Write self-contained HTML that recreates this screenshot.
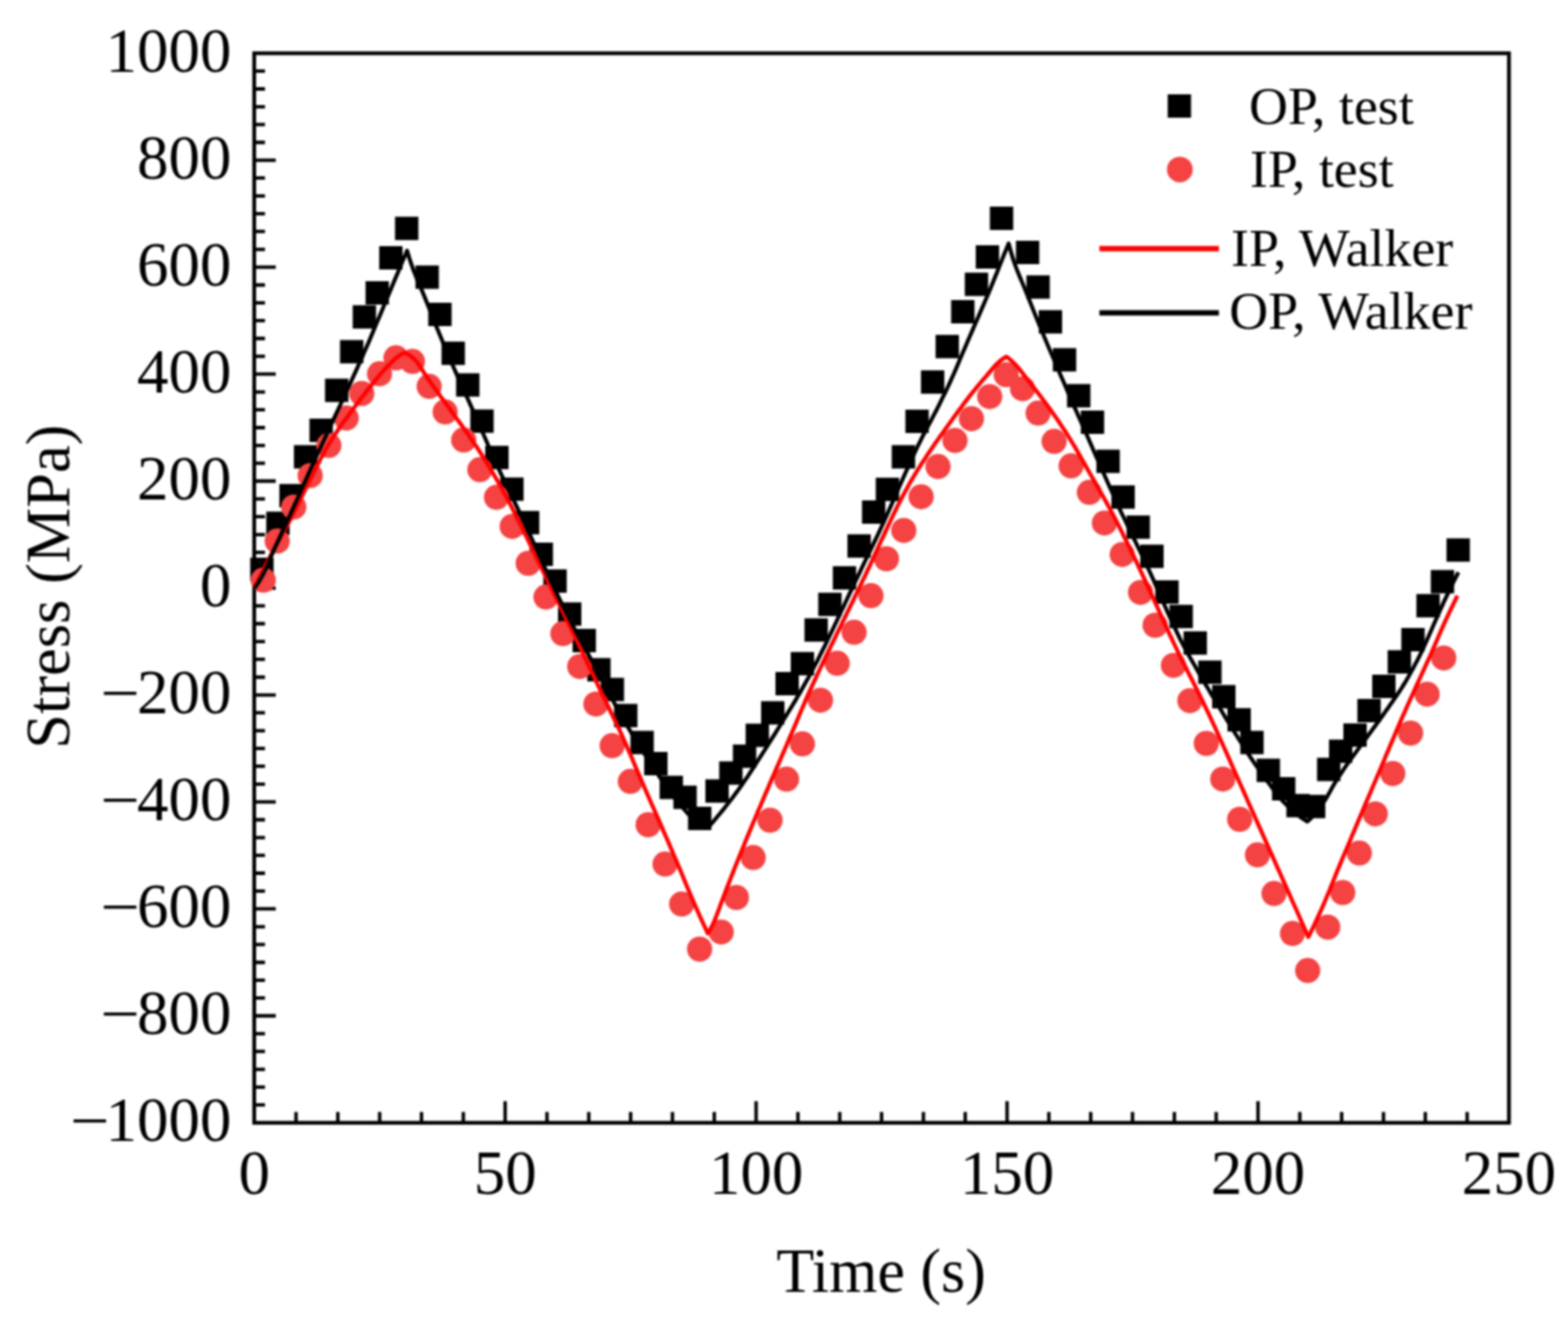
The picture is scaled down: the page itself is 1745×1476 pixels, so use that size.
<!DOCTYPE html><html><head><meta charset="utf-8"><title>Stress vs Time</title>
<style>html,body{margin:0;padding:0;background:#fff;}svg{display:block;filter:blur(1px);}</style></head><body>
<svg width="1745" height="1476" viewBox="0 0 1745 1476" font-family="'Liberation Serif','Times New Roman',serif">
<rect width="1745" height="1476" fill="#fff"/>
<path d="M282.9 79.14h12 M282.9 98.98h12 M282.9 118.82h12 M282.9 138.67h12 M282.9 158.51h12 M282.9 178.35h24 M282.9 198.19h12 M282.9 218.03h12 M282.9 237.88h12 M282.9 257.72h12 M282.9 277.56h12 M282.9 297.40h24 M282.9 317.24h12 M282.9 337.08h12 M282.9 356.93h12 M282.9 376.77h12 M282.9 396.61h12 M282.9 416.45h24 M282.9 436.29h12 M282.9 456.13h12 M282.9 475.98h12 M282.9 495.82h12 M282.9 515.66h12 M282.9 535.50h24 M282.9 555.34h12 M282.9 575.18h12 M282.9 595.03h12 M282.9 614.87h12 M282.9 634.71h12 M282.9 654.55h24 M282.9 674.39h12 M282.9 694.23h12 M282.9 714.07h12 M282.9 733.92h12 M282.9 753.76h12 M282.9 773.60h24 M282.9 793.44h12 M282.9 813.28h12 M282.9 833.12h12 M282.9 852.97h12 M282.9 872.81h12 M282.9 892.65h24 M282.9 912.49h12 M282.9 932.33h12 M282.9 952.17h12 M282.9 972.02h12 M282.9 991.86h12 M282.9 1011.70h24 M282.9 1031.54h12 M282.9 1051.38h12 M282.9 1071.23h12 M282.9 1091.07h12 M282.9 1110.91h12 M282.9 1130.75h24 M282.9 1150.59h12 M282.9 1170.43h12 M282.9 1190.28h12 M282.9 1210.12h12 M282.9 1229.96h12 M329.45 1249.8v-12 M375.99 1249.8v-12 M422.54 1249.8v-12 M469.09 1249.8v-12 M515.63 1249.8v-12 M562.18 1249.8v-24 M608.73 1249.8v-12 M655.27 1249.8v-12 M701.82 1249.8v-12 M748.37 1249.8v-12 M794.91 1249.8v-12 M841.46 1249.8v-24 M888.01 1249.8v-12 M934.55 1249.8v-12 M981.10 1249.8v-12 M1027.65 1249.8v-12 M1074.19 1249.8v-12 M1120.74 1249.8v-24 M1167.29 1249.8v-12 M1213.83 1249.8v-12 M1260.38 1249.8v-12 M1306.93 1249.8v-12 M1353.47 1249.8v-12 M1400.02 1249.8v-24 M1446.57 1249.8v-12 M1493.11 1249.8v-12 M1539.66 1249.8v-12 M1586.21 1249.8v-12 M1632.75 1249.8v-12" stroke="#000" stroke-width="3.8" fill="none"/>
<rect x="282.9" y="59.3" width="1396.4" height="1190.5" fill="none" stroke="#000" stroke-width="4.2"/>
<g font-size="70" text-anchor="end" fill="#000">
<text x="257.5" y="79.6">1000</text>
<text x="257.5" y="198.7">800</text>
<text x="257.5" y="317.7">600</text>
<text x="257.5" y="436.8">400</text>
<text x="257.5" y="555.8">200</text>
<text x="257.5" y="674.8">0</text>
<text x="257.5" y="793.9">200</text>
<text x="257.5" y="912.9">400</text>
<text x="257.5" y="1032.0">600</text>
<text x="257.5" y="1151.0">800</text>
<text x="257.5" y="1270.1">1000</text>
</g>
<g font-size="70" fill="#000">
<text transform="translate(111.7,795.1) scale(1.11,1)">−</text>
<text transform="translate(111.7,914.1) scale(1.11,1)">−</text>
<text transform="translate(111.7,1033.2) scale(1.11,1)">−</text>
<text transform="translate(111.7,1152.2) scale(1.11,1)">−</text>
<text transform="translate(78.0,1271.3) scale(1.11,1)">−</text>
</g>
<g font-size="70" text-anchor="middle" fill="#000">
<text x="282.9" y="1329">0</text>
<text x="562.2" y="1329">50</text>
<text x="841.5" y="1329">100</text>
<text x="1120.7" y="1329">150</text>
<text x="1400.0" y="1329">200</text>
<text x="1679.3" y="1329">250</text>
</g>
<text x="980.5" y="1438" font-size="69" text-anchor="middle">Time (s)</text>
<text transform="translate(77,653) rotate(-90)" font-size="69.5" text-anchor="middle">Stress (MPa)</text>
<path d="M278.5 620.8h26v26h-26zM296.3 569.4h26v26h-26zM310.9 538.8h26v26h-26zM327.1 495.6h26v26h-26zM344.4 466.1h26v26h-26zM361.7 421.4h26v26h-26zM378.4 378.5h26v26h-26zM392.5 339.7h26v26h-26zM406.8 313.0h26v26h-26zM422.0 274.0h26v26h-26zM439.6 241.2h26v26h-26zM462.4 295.4h26v26h-26zM476.6 337.1h26v26h-26zM491.4 380.3h26v26h-26zM507.6 415.4h26v26h-26zM523.4 455.7h26v26h-26zM540.0 496.3h26v26h-26zM556.7 531.5h26v26h-26zM574.2 568.8h26v26h-26zM589.4 603.9h26v26h-26zM604.7 633.8h26v26h-26zM621.0 670.4h26v26h-26zM637.2 699.9h26v26h-26zM653.5 732.4h26v26h-26zM668.5 754.4h26v26h-26zM683.4 783.6h26v26h-26zM701.6 813.6h26v26h-26zM716.9 836.9h26v26h-26zM734.1 863.4h26v26h-26zM749.4 874.5h26v26h-26zM765.7 897.9h26v26h-26zM785.0 867.4h26v26h-26zM800.4 847.6h26v26h-26zM815.6 828.8h26v26h-26zM829.8 805.4h26v26h-26zM847.0 780.5h26v26h-26zM863.0 748.0h26v26h-26zM880.0 725.8h26v26h-26zM895.3 688.2h26v26h-26zM910.6 659.8h26v26h-26zM926.8 630.3h26v26h-26zM943.1 594.7h26v26h-26zM959.3 557.1h26v26h-26zM974.6 531.7h26v26h-26zM992.4 495.6h26v26h-26zM1007.6 456.0h26v26h-26zM1024.9 412.3h26v26h-26zM1041.2 372.7h26v26h-26zM1058.5 334.0h26v26h-26zM1073.7 303.5h26v26h-26zM1085.9 273.1h26v26h-26zM1101.6 229.9h26v26h-26zM1130.6 268.0h26v26h-26zM1142.3 306.6h26v26h-26zM1156.0 345.2h26v26h-26zM1171.7 387.4h26v26h-26zM1187.5 427.5h26v26h-26zM1202.8 457.0h26v26h-26zM1220.2 500.5h26v26h-26zM1236.9 540.2h26v26h-26zM1253.7 573.7h26v26h-26zM1269.0 606.2h26v26h-26zM1285.7 645.9h26v26h-26zM1301.5 673.3h26v26h-26zM1317.2 702.8h26v26h-26zM1333.5 735.3h26v26h-26zM1349.0 762.6h26v26h-26zM1366.0 788.2h26v26h-26zM1380.3 813.6h26v26h-26zM1398.5 844.6h26v26h-26zM1415.6 864.9h26v26h-26zM1431.6 883.7h26v26h-26zM1448.9 884.7h26v26h-26zM1465.7 843.5h26v26h-26zM1479.0 823.2h26v26h-26zM1495.0 805.2h26v26h-26zM1510.6 778.0h26v26h-26zM1527.1 751.0h26v26h-26zM1544.3 723.7h26v26h-26zM1559.5 698.9h26v26h-26zM1576.3 661.3h26v26h-26zM1592.3 634.5h26v26h-26zM1609.8 599.2h26v26h-26z" fill="#000"/>
<g fill="#f54242"><circle cx="293.0" cy="645.8" r="14"/><circle cx="308.5" cy="602.3" r="14"/><circle cx="326.9" cy="564.4" r="14"/><circle cx="345.2" cy="529.4" r="14"/><circle cx="366.0" cy="495.8" r="14"/><circle cx="385.3" cy="465.3" r="14"/><circle cx="402.6" cy="438.0" r="14"/><circle cx="422.4" cy="416.1" r="14"/><circle cx="440.7" cy="398.3" r="14"/><circle cx="459.0" cy="402.3" r="14"/><circle cx="477.6" cy="430.1" r="14"/><circle cx="495.4" cy="458.6" r="14"/><circle cx="516.0" cy="489.8" r="14"/><circle cx="534.0" cy="522.8" r="14"/><circle cx="552.5" cy="553.6" r="14"/><circle cx="570.0" cy="585.9" r="14"/><circle cx="587.8" cy="627.0" r="14"/><circle cx="607.6" cy="664.6" r="14"/><circle cx="626.4" cy="705.3" r="14"/><circle cx="645.2" cy="741.9" r="14"/><circle cx="663.2" cy="783.7" r="14"/><circle cx="681.2" cy="830.1" r="14"/><circle cx="701.5" cy="869.8" r="14"/><circle cx="721.3" cy="918.0" r="14"/><circle cx="740.1" cy="961.8" r="14"/><circle cx="758.6" cy="1006.3" r="14"/><circle cx="778.6" cy="1056.5" r="14"/><circle cx="802.6" cy="1037.4" r="14"/><circle cx="819.5" cy="999.0" r="14"/><circle cx="838.2" cy="954.6" r="14"/><circle cx="857.0" cy="913.0" r="14"/><circle cx="875.3" cy="867.3" r="14"/><circle cx="893.0" cy="828.1" r="14"/><circle cx="913.1" cy="779.4" r="14"/><circle cx="931.7" cy="738.3" r="14"/><circle cx="950.5" cy="703.8" r="14"/><circle cx="969.3" cy="663.1" r="14"/><circle cx="986.5" cy="622.0" r="14"/><circle cx="1005.8" cy="590.4" r="14"/><circle cx="1025.1" cy="552.9" r="14"/><circle cx="1043.9" cy="519.3" r="14"/><circle cx="1062.8" cy="490.3" r="14"/><circle cx="1081.1" cy="466.0" r="14"/><circle cx="1101.4" cy="441.4" r="14"/><circle cx="1119.7" cy="417.0" r="14"/><circle cx="1138.0" cy="432.7" r="14"/><circle cx="1155.3" cy="459.8" r="14"/><circle cx="1173.1" cy="491.3" r="14"/><circle cx="1192.0" cy="518.6" r="14"/><circle cx="1212.3" cy="548.1" r="14"/><circle cx="1229.1" cy="582.2" r="14"/><circle cx="1248.9" cy="617.2" r="14"/><circle cx="1269.3" cy="659.4" r="14"/><circle cx="1285.5" cy="696.0" r="14"/><circle cx="1305.9" cy="740.7" r="14"/><circle cx="1324.2" cy="779.9" r="14"/><circle cx="1342.5" cy="827.5" r="14"/><circle cx="1360.8" cy="867.2" r="14"/><circle cx="1379.6" cy="912.0" r="14"/><circle cx="1399.4" cy="951.6" r="14"/><circle cx="1417.8" cy="994.6" r="14"/><circle cx="1438.4" cy="1039.1" r="14"/><circle cx="1455.3" cy="1080.3" r="14"/><circle cx="1477.6" cy="1032.0" r="14"/><circle cx="1494.3" cy="993.5" r="14"/><circle cx="1512.8" cy="949.6" r="14"/><circle cx="1530.5" cy="905.9" r="14"/><circle cx="1550.0" cy="861.0" r="14"/><circle cx="1569.8" cy="816.0" r="14"/><circle cx="1588.2" cy="772.7" r="14"/><circle cx="1606.7" cy="732.4" r="14"/></g>
<polyline points="283.0,654.5 285.6,649.2 288.1,644.0 290.7,638.9 293.3,633.8 295.9,628.7 298.4,623.7 301.0,618.7 303.6,613.8 306.2,609.0 308.7,604.2 311.3,599.6 313.9,595.0 316.4,590.4 319.0,585.8 321.6,581.1 324.2,576.2 326.7,571.3 329.3,566.2 331.9,561.0 334.4,555.7 337.0,550.4 339.6,545.1 342.2,539.8 344.7,534.7 347.3,529.6 349.9,524.4 352.5,519.3 355.0,514.2 357.6,509.2 360.2,504.4 362.7,499.8 365.3,495.4 367.9,491.2 370.5,487.2 373.0,483.2 375.6,479.4 378.2,475.6 380.7,471.9 383.3,468.3 385.9,464.8 388.5,461.3 391.0,457.9 393.6,454.5 396.2,451.0 398.8,447.6 401.3,444.2 403.9,440.8 406.5,437.4 409.0,434.1 411.6,430.8 414.2,427.6 416.8,424.5 419.3,421.4 421.9,418.3 424.5,415.3 427.0,412.4 429.6,409.6 432.2,406.9 434.8,404.2 437.3,401.6 439.9,399.2 442.5,397.1 445.1,395.4 447.6,393.8 450.2,392.5 452.7,393.6 455.2,395.1 457.8,397.0 460.3,399.2 462.8,401.6 465.3,404.6 467.8,408.3 470.3,412.4 472.9,416.5 475.4,420.4 477.9,423.9 480.4,427.5 482.9,431.0 485.5,434.5 488.0,438.0 490.5,441.5 493.0,444.9 495.5,448.4 498.1,451.8 500.6,455.3 503.1,458.7 505.6,462.2 508.1,465.7 510.6,469.1 513.2,472.6 515.7,476.1 518.2,479.6 520.7,483.2 523.2,486.9 525.8,490.6 528.3,494.3 530.8,498.0 533.3,501.8 535.8,505.7 538.4,509.7 540.9,513.7 543.4,517.8 545.9,522.0 548.4,526.3 550.9,530.6 553.5,535.0 556.0,539.4 558.5,543.9 561.0,548.5 563.5,553.2 566.1,558.0 568.6,562.8 571.1,567.8 573.6,572.8 576.1,577.8 578.7,582.8 581.2,587.9 583.7,593.0 586.2,598.2 588.7,603.4 591.2,608.7 593.8,614.0 596.3,619.3 598.8,624.5 601.3,629.7 603.8,634.9 606.4,640.1 608.9,645.3 611.4,650.4 613.9,655.6 616.4,660.7 619.0,665.9 621.5,671.1 624.0,676.2 626.5,681.4 629.0,686.5 631.5,691.7 634.1,696.8 636.6,702.0 639.1,707.2 641.6,712.4 644.1,717.6 646.7,722.9 649.2,728.3 651.7,733.6 654.2,739.0 656.7,744.3 659.2,749.6 661.8,754.9 664.3,760.2 666.8,765.5 669.3,770.8 671.8,776.0 674.4,781.3 676.9,786.5 679.4,791.8 681.9,797.0 684.4,802.2 687.0,807.4 689.5,812.7 692.0,818.1 694.5,823.8 697.0,829.5 699.5,835.4 702.1,841.2 704.6,847.1 707.1,853.1 709.6,859.0 712.1,864.9 714.7,870.8 717.2,876.6 719.7,882.4 722.2,888.1 724.7,893.9 727.3,899.6 729.8,905.3 732.3,911.0 734.8,916.7 737.3,922.5 739.8,928.3 742.4,934.1 744.9,940.0 747.4,945.9 749.9,951.8 752.4,957.7 755.0,963.7 757.5,969.7 760.0,975.7 762.5,981.8 765.0,987.9 767.6,993.9 770.1,999.8 772.6,1005.6 775.1,1011.4 777.6,1017.0 780.1,1022.6 782.7,1028.2 785.2,1033.6 787.7,1039.0 790.2,1034.8 792.8,1030.1 795.3,1024.4 797.8,1018.1 800.4,1011.3 802.9,1004.3 805.5,997.5 808.0,990.9 810.5,984.4 813.1,977.9 815.6,971.4 818.1,965.0 820.7,958.6 823.2,952.3 825.8,946.0 828.3,939.8 830.8,933.6 833.4,927.5 835.9,921.4 838.4,915.3 841.0,909.3 843.5,903.2 846.1,897.3 848.6,891.3 851.1,885.4 853.7,879.5 856.2,873.6 858.7,867.7 861.3,861.9 863.8,856.0 866.4,850.2 868.9,844.4 871.4,838.5 874.0,832.6 876.5,826.6 879.0,820.7 881.6,814.8 884.1,808.9 886.7,802.9 889.2,796.9 891.7,790.9 894.3,784.9 896.8,779.0 899.3,773.2 901.9,767.5 904.4,762.0 907.0,756.5 909.5,751.0 912.0,745.6 914.6,740.2 917.1,734.9 919.6,729.6 922.2,724.4 924.7,719.2 927.3,714.0 929.8,708.8 932.3,703.6 934.9,698.4 937.4,693.2 939.9,687.9 942.5,682.7 945.0,677.5 947.6,672.3 950.1,667.0 952.6,661.8 955.2,656.5 957.7,651.3 960.2,646.0 962.8,640.7 965.3,635.3 967.9,629.9 970.4,624.4 972.9,618.9 975.5,613.3 978.0,607.8 980.5,602.2 983.1,596.8 985.6,591.3 988.2,585.8 990.7,580.4 993.2,575.0 995.8,569.7 998.3,564.5 1000.8,559.5 1003.4,554.6 1005.9,549.8 1008.5,545.1 1011.0,540.5 1013.5,536.0 1016.1,531.7 1018.6,527.4 1021.1,523.3 1023.7,519.2 1026.2,515.3 1028.8,511.4 1031.3,507.6 1033.8,503.8 1036.4,500.0 1038.9,496.3 1041.4,492.6 1044.0,489.0 1046.5,485.4 1049.1,481.9 1051.6,478.3 1054.1,474.8 1056.7,471.2 1059.2,467.7 1061.7,464.1 1064.3,460.6 1066.8,457.2 1069.4,453.8 1071.9,450.4 1074.4,447.0 1077.0,443.7 1079.5,440.4 1082.0,437.2 1084.6,434.1 1087.1,431.0 1089.7,427.9 1092.2,424.9 1094.7,421.9 1097.3,419.0 1099.8,416.0 1102.3,413.0 1104.9,409.9 1107.4,407.0 1110.0,404.4 1112.5,402.1 1115.0,400.2 1117.6,398.4 1120.1,397.0 1122.6,399.0 1125.2,401.1 1127.7,403.5 1130.2,406.0 1132.7,408.8 1135.3,411.9 1137.8,415.1 1140.3,418.4 1142.8,421.7 1145.4,424.9 1147.9,428.1 1150.4,431.3 1152.9,434.6 1155.5,437.9 1158.0,441.2 1160.5,444.5 1163.0,447.9 1165.6,451.3 1168.1,454.8 1170.6,458.3 1173.1,461.9 1175.7,465.5 1178.2,469.2 1180.7,472.9 1183.2,476.7 1185.8,480.6 1188.3,484.6 1190.8,488.7 1193.3,492.8 1195.9,497.0 1198.4,501.3 1200.9,505.7 1203.4,510.2 1206.0,514.7 1208.5,519.2 1211.0,523.6 1213.5,528.0 1216.1,532.4 1218.6,536.9 1221.1,541.3 1223.6,545.8 1226.2,550.2 1228.7,554.7 1231.2,559.2 1233.8,563.8 1236.3,568.5 1238.8,573.2 1241.3,578.1 1243.9,583.0 1246.4,588.0 1248.9,593.1 1251.4,598.2 1254.0,603.3 1256.5,608.4 1259.0,613.6 1261.5,618.9 1264.1,624.2 1266.6,629.5 1269.1,634.9 1271.6,640.3 1274.2,645.7 1276.7,651.2 1279.2,656.6 1281.7,662.1 1284.3,667.7 1286.8,673.2 1289.3,678.8 1291.8,684.4 1294.4,690.0 1296.9,695.6 1299.4,701.2 1301.9,706.7 1304.5,712.1 1307.0,717.4 1309.5,722.6 1312.0,727.8 1314.6,733.0 1317.1,738.1 1319.6,743.1 1322.1,748.1 1324.7,753.1 1327.2,758.0 1329.7,763.0 1332.2,768.0 1334.8,773.1 1337.3,778.3 1339.8,783.5 1342.3,788.8 1344.9,794.1 1347.4,799.5 1349.9,804.9 1352.5,810.4 1355.0,816.0 1357.5,821.6 1360.0,827.2 1362.6,832.9 1365.1,838.5 1367.6,844.2 1370.1,849.9 1372.7,855.6 1375.2,861.3 1377.7,867.0 1380.2,872.7 1382.8,878.3 1385.3,884.0 1387.8,889.7 1390.3,895.4 1392.9,901.0 1395.4,906.7 1397.9,912.4 1400.4,918.0 1403.0,923.7 1405.5,929.4 1408.0,935.0 1410.5,940.7 1413.1,946.4 1415.6,952.0 1418.1,957.7 1420.6,963.4 1423.2,969.0 1425.7,974.7 1428.2,980.4 1430.7,986.0 1433.3,991.7 1435.8,997.4 1438.3,1003.1 1440.8,1008.7 1443.4,1014.4 1445.9,1020.1 1448.4,1025.8 1450.9,1031.5 1453.5,1037.2 1456.0,1043.0 1458.6,1037.9 1461.1,1032.7 1463.7,1027.3 1466.2,1021.8 1468.8,1016.2 1471.3,1010.6 1473.9,1004.7 1476.4,998.7 1479.0,992.5 1481.5,986.2 1484.1,979.8 1486.6,973.4 1489.2,967.1 1491.8,961.0 1494.3,954.9 1496.9,948.9 1499.4,942.8 1502.0,936.8 1504.5,930.7 1507.1,924.7 1509.6,918.6 1512.2,912.5 1514.7,906.5 1517.3,900.4 1519.8,894.4 1522.4,888.4 1525.0,882.4 1527.5,876.4 1530.1,870.4 1532.6,864.4 1535.2,858.4 1537.7,852.3 1540.3,846.3 1542.8,840.2 1545.4,834.2 1547.9,828.2 1550.5,822.1 1553.0,816.1 1555.6,810.0 1558.2,804.0 1560.7,798.1 1563.3,792.3 1565.8,786.6 1568.4,780.9 1570.9,775.3 1573.5,769.6 1576.0,764.0 1578.6,758.4 1581.1,752.8 1583.7,747.2 1586.2,741.6 1588.8,736.0 1591.4,730.4 1593.9,724.6 1596.5,718.7 1599.0,712.8 1601.6,706.8 1604.1,701.0 1606.7,695.3 1609.2,689.7 1611.8,684.2 1614.3,678.8 1616.9,673.4 1619.4,668.2 1622.0,663.0" fill="none" stroke="#ff0000" stroke-width="4.5" stroke-linejoin="round"/>
<polyline points="283.0,655.0 285.5,651.5 288.1,647.6 290.6,643.2 293.1,638.6 295.7,633.6 298.2,627.8 300.8,621.6 303.3,615.6 305.8,610.0 308.4,604.5 310.9,599.0 313.4,593.5 316.0,588.0 318.5,582.6 321.1,577.1 323.6,571.5 326.1,565.9 328.7,560.3 331.2,554.6 333.7,548.8 336.3,543.1 338.8,537.5 341.4,531.8 343.9,526.2 346.4,520.6 349.0,515.0 351.5,509.5 354.0,503.9 356.6,498.4 359.1,492.9 361.7,487.3 364.2,481.8 366.7,476.4 369.3,470.9 371.8,465.5 374.3,460.1 376.9,454.6 379.4,449.2 382.0,443.7 384.5,438.3 387.0,432.7 389.6,427.2 392.1,421.7 394.6,416.1 397.2,410.5 399.7,404.9 402.3,399.3 404.8,393.5 407.3,387.7 409.9,381.8 412.4,375.8 414.9,369.8 417.5,363.7 420.0,357.7 422.6,351.6 425.1,345.6 427.6,339.5 430.2,333.4 432.7,327.3 435.2,321.3 437.8,315.2 440.3,309.2 442.9,303.1 445.4,297.1 447.9,291.0 450.5,285.0 453.0,279.0 455.5,287.2 458.1,294.9 460.6,301.9 463.1,308.3 465.6,314.3 468.2,320.2 470.7,326.1 473.2,332.2 475.7,338.5 478.3,344.8 480.8,351.2 483.3,357.6 485.8,363.9 488.4,370.1 490.9,376.2 493.4,382.3 495.9,388.3 498.5,394.3 501.0,400.2 503.5,406.0 506.1,411.8 508.6,417.5 511.1,423.1 513.6,428.7 516.2,434.2 518.7,439.8 521.2,445.3 523.7,451.0 526.3,456.7 528.8,462.4 531.3,468.2 533.8,474.0 536.4,479.7 538.9,485.5 541.4,491.2 543.9,497.0 546.5,502.7 549.0,508.4 551.5,514.1 554.1,519.7 556.6,525.3 559.1,530.7 561.6,536.0 564.2,541.3 566.7,546.5 569.2,551.7 571.7,556.9 574.3,562.2 576.8,567.5 579.3,572.9 581.8,578.2 584.4,583.6 586.9,589.1 589.4,594.5 591.9,600.0 594.5,605.6 597.0,611.2 599.5,616.9 602.1,622.6 604.6,628.2 607.1,633.7 609.6,639.2 612.2,644.6 614.7,650.1 617.2,655.4 619.7,660.8 622.3,666.0 624.8,671.2 627.3,676.3 629.8,681.3 632.4,686.3 634.9,691.2 637.4,696.1 639.9,700.9 642.5,705.7 645.0,710.4 647.5,715.1 650.1,719.7 652.6,724.4 655.1,729.0 657.6,733.7 660.2,738.4 662.7,743.1 665.2,747.8 667.7,752.5 670.3,757.2 672.8,762.0 675.3,766.8 677.8,771.7 680.4,776.5 682.9,781.3 685.4,785.9 687.9,790.5 690.5,795.0 693.0,799.4 695.5,803.8 698.1,808.1 700.6,812.3 703.1,816.5 705.6,820.7 708.2,824.8 710.7,828.9 713.2,833.0 715.7,837.0 718.3,840.9 720.8,844.9 723.3,848.8 725.8,852.6 728.4,856.4 730.9,860.1 733.4,863.8 735.9,867.4 738.5,871.1 741.0,874.7 743.5,878.3 746.1,881.8 748.6,885.2 751.1,888.5 753.6,891.7 756.2,894.7 758.7,897.7 761.2,900.7 763.7,903.6 766.3,906.4 768.8,909.0 771.3,911.3 773.8,913.3 776.4,914.8 778.9,916.2 781.4,917.5 783.9,918.6 786.5,919.4 789.0,920.0 791.5,917.1 794.1,914.2 796.6,911.2 799.1,908.2 801.6,905.2 804.2,902.0 806.7,898.9 809.2,895.7 811.7,892.5 814.3,889.2 816.8,885.8 819.3,882.4 821.8,879.0 824.4,875.4 826.9,871.8 829.4,868.1 832.0,864.4 834.5,860.5 837.0,856.7 839.5,852.8 842.1,848.9 844.6,844.9 847.1,841.0 849.6,837.1 852.2,833.1 854.7,829.1 857.2,825.1 859.7,821.0 862.3,817.0 864.8,812.9 867.3,808.8 869.8,804.7 872.4,800.6 874.9,796.5 877.4,792.4 880.0,788.3 882.5,784.2 885.0,780.0 887.5,775.7 890.1,771.4 892.6,766.9 895.1,762.4 897.6,757.9 900.2,753.3 902.7,748.6 905.2,743.8 907.7,739.0 910.3,734.1 912.8,729.1 915.3,724.0 917.9,718.9 920.4,713.7 922.9,708.4 925.4,703.2 928.0,697.9 930.5,692.6 933.0,687.3 935.5,681.9 938.1,676.6 940.6,671.2 943.1,665.8 945.6,660.5 948.2,655.2 950.7,649.8 953.2,644.5 955.8,639.2 958.3,633.9 960.8,628.6 963.3,623.4 965.9,618.2 968.4,613.0 970.9,607.8 973.4,602.5 976.0,597.2 978.5,591.8 981.0,586.3 983.5,580.8 986.1,575.2 988.6,569.7 991.1,564.0 993.6,558.4 996.2,552.6 998.7,546.8 1001.2,540.9 1003.8,535.2 1006.3,529.4 1008.8,523.8 1011.3,518.3 1013.9,512.7 1016.4,507.3 1018.9,501.9 1021.4,496.6 1024.0,491.4 1026.5,486.3 1029.0,481.5 1031.5,476.7 1034.1,471.9 1036.6,467.2 1039.1,462.3 1041.7,457.4 1044.2,452.4 1046.7,447.4 1049.2,442.3 1051.8,437.2 1054.3,431.9 1056.8,426.5 1059.3,420.9 1061.9,415.2 1064.4,409.3 1066.9,403.3 1069.4,397.3 1072.0,391.4 1074.5,385.6 1077.0,379.7 1079.5,373.9 1082.1,368.0 1084.6,362.2 1087.1,356.3 1089.7,350.5 1092.2,344.7 1094.7,338.9 1097.2,333.0 1099.8,327.1 1102.3,321.1 1104.8,314.9 1107.3,308.6 1109.9,302.3 1112.4,295.9 1114.9,289.7 1117.4,283.4 1120.0,277.2 1122.5,271.0 1125.0,280.1 1127.5,288.6 1130.1,296.0 1132.6,302.5 1135.1,308.6 1137.6,314.5 1140.1,320.5 1142.7,326.8 1145.2,333.1 1147.7,339.5 1150.2,345.8 1152.7,352.0 1155.2,358.2 1157.8,364.4 1160.3,370.5 1162.8,376.5 1165.3,382.5 1167.8,388.5 1170.4,394.4 1172.9,400.2 1175.4,406.1 1177.9,411.9 1180.4,417.8 1183.0,423.6 1185.5,429.4 1188.0,435.3 1190.5,441.1 1193.0,446.8 1195.5,452.6 1198.1,458.3 1200.6,464.0 1203.1,469.7 1205.6,475.5 1208.1,481.2 1210.7,486.9 1213.2,492.7 1215.7,498.4 1218.2,504.1 1220.7,509.9 1223.3,515.6 1225.8,521.3 1228.3,527.0 1230.8,532.7 1233.3,538.4 1235.9,544.0 1238.4,549.7 1240.9,555.3 1243.4,560.8 1245.9,566.2 1248.4,571.6 1251.0,576.9 1253.5,582.1 1256.0,587.3 1258.5,592.4 1261.0,597.7 1263.6,602.9 1266.1,608.2 1268.6,613.4 1271.1,618.6 1273.6,623.9 1276.2,629.2 1278.7,634.6 1281.2,640.1 1283.7,645.7 1286.2,651.4 1288.8,657.2 1291.3,663.0 1293.8,668.7 1296.3,674.4 1298.8,680.0 1301.3,685.6 1303.9,691.1 1306.4,696.6 1308.9,702.0 1311.4,707.3 1313.9,712.5 1316.5,717.4 1319.0,722.1 1321.5,726.7 1324.0,731.2 1326.5,735.6 1329.1,740.0 1331.6,744.5 1334.1,748.8 1336.6,753.2 1339.1,757.5 1341.6,761.8 1344.2,766.0 1346.7,770.3 1349.2,774.5 1351.7,778.7 1354.2,782.9 1356.8,787.1 1359.3,791.2 1361.8,795.3 1364.3,799.5 1366.8,803.6 1369.4,807.7 1371.9,811.8 1374.4,815.8 1376.9,819.9 1379.4,823.9 1382.0,827.9 1384.5,831.9 1387.0,835.8 1389.5,839.7 1392.0,843.5 1394.5,847.2 1397.1,850.9 1399.6,854.5 1402.1,858.1 1404.6,861.6 1407.1,865.1 1409.7,868.6 1412.2,872.0 1414.7,875.5 1417.2,879.0 1419.7,882.4 1422.3,885.6 1424.8,888.6 1427.3,891.4 1429.8,894.0 1432.3,896.5 1434.8,898.9 1437.4,901.2 1439.9,903.5 1442.4,905.7 1444.9,907.7 1447.4,909.6 1450.0,911.4 1452.5,913.0 1455.0,914.5 1457.5,912.2 1460.1,909.5 1462.6,906.7 1465.2,903.6 1467.7,900.4 1470.3,896.9 1472.8,893.4 1475.4,889.5 1477.9,885.2 1480.5,880.5 1483.0,875.9 1485.5,871.6 1488.1,867.6 1490.6,863.6 1493.2,859.7 1495.7,855.9 1498.3,852.1 1500.8,848.5 1503.4,844.9 1505.9,841.5 1508.5,838.0 1511.0,834.5 1513.5,831.0 1516.1,827.5 1518.6,824.1 1521.2,820.6 1523.7,817.1 1526.3,813.6 1528.8,810.1 1531.4,806.6 1533.9,803.1 1536.5,799.6 1539.0,796.1 1541.5,792.5 1544.1,788.9 1546.6,785.2 1549.2,781.6 1551.7,778.0 1554.3,774.2 1556.8,770.5 1559.4,766.6 1561.9,762.5 1564.5,758.3 1567.0,754.0 1569.5,749.5 1572.1,744.9 1574.6,740.1 1577.2,735.2 1579.7,730.2 1582.3,725.0 1584.8,719.5 1587.4,713.9 1589.9,708.1 1592.5,702.3 1595.0,696.5 1597.5,690.9 1600.1,685.1 1602.6,679.4 1605.2,673.8 1607.7,668.2 1610.3,662.8 1612.8,657.5 1615.4,652.2 1617.9,647.1 1620.5,642.0 1623.0,637.0" fill="none" stroke="#000" stroke-width="4.4" stroke-linejoin="round"/>
<rect x="1299.5" y="105" width="26" height="26" fill="#000"/>
<circle cx="1313" cy="188.7" r="14.3" fill="#f54242"/>
<line x1="1223.5" y1="276.7" x2="1356.5" y2="276.7" stroke="#ff0000" stroke-width="6"/>
<line x1="1223.5" y1="348.2" x2="1356.5" y2="348.2" stroke="#000" stroke-width="6"/>
<g font-size="60" fill="#000">
<text x="1390" y="137.8">OP, test</text>
<text x="1391" y="207.9">IP, test</text>
<text x="1370" y="296">IP, Walker</text>
<text x="1368" y="366.1">OP, Walker</text>
</g>
</svg></body></html>
